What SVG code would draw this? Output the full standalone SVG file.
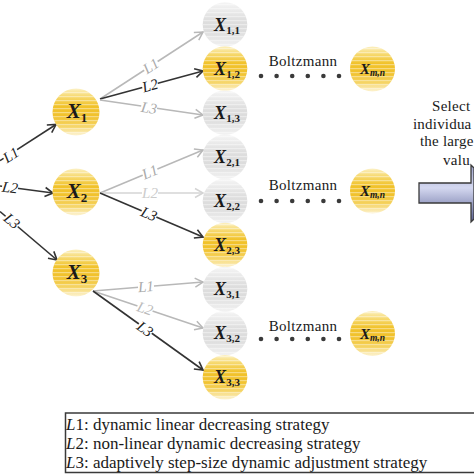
<svg xmlns="http://www.w3.org/2000/svg" width="474" height="474" viewBox="0 0 474 474">
<style>
.t{font-family:"Liberation Serif","Times New Roman",serif;fill:#1a1a1a}
.xb{font-weight:bold;font-style:italic}
.sb{font-weight:bold;font-style:normal}
.lab{font-family:"Liberation Serif","Times New Roman",serif;font-style:italic;font-size:15px;text-anchor:middle}
.bg{fill:#fff}
.dk{stroke:#333;stroke-width:1.6;fill:none}
.lg{stroke:#b8b8b8;stroke-width:1.5;fill:none}
.vl{stroke:#d4d4d4;stroke-width:1.5;fill:none}
.stripe{fill:url(#stripes)}
.dot{fill:#3a3a3a}
</style>
<defs>
<linearGradient id="gy" x1="0" y1="0" x2="0" y2="1">
<stop offset="0" stop-color="#fcf0c0"/>
<stop offset="0.18" stop-color="#f6d86c"/>
<stop offset="0.38" stop-color="#f1c22a"/>
<stop offset="0.6" stop-color="#f1c22e"/>
<stop offset="0.8" stop-color="#f5d464"/>
<stop offset="1" stop-color="#fdf3d2"/>
</linearGradient>
<linearGradient id="gg" x1="0" y1="0" x2="0" y2="1">
<stop offset="0" stop-color="#f5f5f5"/>
<stop offset="0.4" stop-color="#dedede"/>
<stop offset="0.65" stop-color="#dcdcdc"/>
<stop offset="1" stop-color="#f2f2f2"/>
</linearGradient>
<linearGradient id="ga" x1="0" y1="0" x2="0" y2="1">
<stop offset="0" stop-color="#9ea3cc"/>
<stop offset="0.4" stop-color="#d4d8f0"/>
<stop offset="1" stop-color="#5a6094"/>
</linearGradient>
<pattern id="stripes" patternUnits="userSpaceOnUse" width="6" height="4">
<rect x="0" y="0" width="6" height="1.2" fill="#ffffff" fill-opacity="0.4"/>
</pattern>
<marker id="mdk" markerUnits="userSpaceOnUse" markerWidth="12" markerHeight="12" refX="10" refY="6" orient="auto">
<path d="M2,1.5 L10,6 L2,10.5" fill="none" stroke="#333" stroke-width="1.6"/>
</marker>
<marker id="mlg" markerUnits="userSpaceOnUse" markerWidth="12" markerHeight="12" refX="10" refY="6" orient="auto">
<path d="M2,1.5 L10,6 L2,10.5" fill="none" stroke="#b8b8b8" stroke-width="1.5"/>
</marker>
<marker id="mvl" markerUnits="userSpaceOnUse" markerWidth="12" markerHeight="12" refX="10" refY="6" orient="auto">
<path d="M2,1.5 L10,6 L2,10.5" fill="none" stroke="#d4d4d4" stroke-width="1.5"/>
</marker>
</defs>
<rect width="474" height="474" fill="#ffffff"/>

<g id="connectors">
<line class="dk" x1="0" y1="160.7" x2="56" y2="124.5" marker-end="url(#mdk)"/>
<line class="dk" x1="0" y1="186" x2="53" y2="193" marker-end="url(#mdk)"/>
<line class="dk" x1="0" y1="211.5" x2="57" y2="260" marker-end="url(#mdk)"/>
<line class="lg" x1="100" y1="99" x2="203" y2="32" marker-end="url(#mlg)"/>
<line class="dk" x1="100" y1="99" x2="203" y2="71" marker-end="url(#mdk)"/>
<line class="lg" x1="100" y1="100" x2="203" y2="115" marker-end="url(#mlg)"/>
<line class="lg" x1="100" y1="193" x2="203" y2="150" marker-end="url(#mlg)"/>
<line class="vl" x1="100" y1="193" x2="203" y2="193" marker-end="url(#mvl)"/>
<line class="dk" x1="100" y1="193" x2="203" y2="237" marker-end="url(#mdk)"/>
<line class="lg" x1="93" y1="291" x2="203" y2="282" marker-end="url(#mlg)"/>
<line class="lg" x1="93" y1="291" x2="203" y2="328" marker-end="url(#mlg)"/>
<line class="dk" x1="93" y1="291" x2="203" y2="370" marker-end="url(#mdk)"/>
</g>

<g id="connector-labels">
<g transform="translate(11,155) rotate(-32.8)"><rect class="bg" x="-8" y="-6" width="16" height="12"/><text class="lab" fill="#222" y="5">L1</text></g>
<g transform="translate(10,187.5) rotate(7.5)"><rect class="bg" x="-8" y="-6" width="16" height="12"/><text class="lab" fill="#222" y="5">L2</text></g>
<g transform="translate(12,221) rotate(40.4)"><rect class="bg" x="-8" y="-6" width="16" height="12"/><text class="lab" fill="#222" y="5">L3</text></g>
<g transform="translate(151,66) rotate(-33)"><rect class="bg" x="-8" y="-6" width="16" height="12"/><text class="lab" fill="#aaaaaa" y="5">L1</text></g>
<g transform="translate(150,85.5) rotate(-15.2)"><rect class="bg" x="-8" y="-6" width="16" height="12"/><text class="lab" fill="#222" y="5">L2</text></g>
<g transform="translate(149,108) rotate(8.3)"><rect class="bg" x="-8" y="-6" width="16" height="12"/><text class="lab" fill="#aaaaaa" y="5">L3</text></g>
<g transform="translate(150,172) rotate(-22.7)"><rect class="bg" x="-8" y="-6" width="16" height="12"/><text class="lab" fill="#aaaaaa" y="5">L1</text></g>
<g transform="translate(150,193)"><rect class="bg" x="-8" y="-6" width="16" height="12"/><text class="lab" fill="#cccccc" y="5">L2</text></g>
<g transform="translate(149,214) rotate(23.1)"><rect class="bg" x="-8" y="-6" width="16" height="12"/><text class="lab" fill="#222" y="5">L3</text></g>
<g transform="translate(146,286.5) rotate(-4.7)"><rect class="bg" x="-8" y="-6" width="16" height="12"/><text class="lab" fill="#aaaaaa" y="5">L1</text></g>
<g transform="translate(145,308.5) rotate(18.6)"><rect class="bg" x="-8" y="-6" width="16" height="12"/><text class="lab" fill="#bbbbbb" y="5">L2</text></g>
<g transform="translate(145,329) rotate(35.7)"><rect class="bg" x="-8" y="-6" width="16" height="12"/><text class="lab" fill="#222" y="5">L3</text></g>
</g>

<g id="node-X1">
<circle cx="76" cy="112" r="23.5" fill="url(#gy)"/><circle class="stripe" cx="76" cy="112" r="23.5"/>
<text class="t" x="77" y="118" text-anchor="middle"><tspan class="xb" font-size="21">X</tspan><tspan class="sb" font-size="13" dy="4">1</tspan></text>
</g>
<g id="node-X2">
<circle cx="76" cy="192" r="23.5" fill="url(#gy)"/><circle class="stripe" cx="76" cy="192" r="23.5"/>
<text class="t" x="77" y="198" text-anchor="middle"><tspan class="xb" font-size="21">X</tspan><tspan class="sb" font-size="13" dy="4">2</tspan></text>
</g>
<g id="node-X3">
<circle cx="76" cy="273" r="23.5" fill="url(#gy)"/><circle class="stripe" cx="76" cy="273" r="23.5"/>
<text class="t" x="77" y="279" text-anchor="middle"><tspan class="xb" font-size="21">X</tspan><tspan class="sb" font-size="13" dy="4">3</tspan></text>
</g>

<g id="node-X11">
<circle cx="225" cy="24.5" r="22.3" fill="url(#gg)"/><circle class="stripe" cx="225" cy="24.5" r="22.3"/>
<text class="t" x="227" y="30.5" text-anchor="middle"><tspan class="xb" font-size="18">X</tspan><tspan class="sb" font-size="11" dy="3">1,1</tspan></text>
</g>
<g id="node-X12">
<circle cx="225" cy="68.6" r="22.3" fill="url(#gy)"/><circle class="stripe" cx="225" cy="68.6" r="22.3"/>
<text class="t" x="227" y="74.6" text-anchor="middle"><tspan class="xb" font-size="18">X</tspan><tspan class="sb" font-size="11" dy="3">1,2</tspan></text>
</g>
<g id="node-X13">
<circle cx="225" cy="112.7" r="22.3" fill="url(#gg)"/><circle class="stripe" cx="225" cy="112.7" r="22.3"/>
<text class="t" x="227" y="118.7" text-anchor="middle"><tspan class="xb" font-size="18">X</tspan><tspan class="sb" font-size="11" dy="3">1,3</tspan></text>
</g>
<g id="node-X21">
<circle cx="225" cy="156.8" r="22.3" fill="url(#gg)"/><circle class="stripe" cx="225" cy="156.8" r="22.3"/>
<text class="t" x="227" y="162.8" text-anchor="middle"><tspan class="xb" font-size="18">X</tspan><tspan class="sb" font-size="11" dy="3">2,1</tspan></text>
</g>
<g id="node-X22">
<circle cx="225" cy="200.9" r="22.3" fill="url(#gg)"/><circle class="stripe" cx="225" cy="200.9" r="22.3"/>
<text class="t" x="227" y="206.9" text-anchor="middle"><tspan class="xb" font-size="18">X</tspan><tspan class="sb" font-size="11" dy="3">2,2</tspan></text>
</g>
<g id="node-X23">
<circle cx="225" cy="245" r="22.3" fill="url(#gy)"/><circle class="stripe" cx="225" cy="245" r="22.3"/>
<text class="t" x="227" y="251" text-anchor="middle"><tspan class="xb" font-size="18">X</tspan><tspan class="sb" font-size="11" dy="3">2,3</tspan></text>
</g>
<g id="node-X31">
<circle cx="225" cy="289.1" r="22.3" fill="url(#gg)"/><circle class="stripe" cx="225" cy="289.1" r="22.3"/>
<text class="t" x="227" y="295.1" text-anchor="middle"><tspan class="xb" font-size="18">X</tspan><tspan class="sb" font-size="11" dy="3">3,1</tspan></text>
</g>
<g id="node-X32">
<circle cx="225" cy="333.2" r="22.3" fill="url(#gg)"/><circle class="stripe" cx="225" cy="333.2" r="22.3"/>
<text class="t" x="227" y="339.2" text-anchor="middle"><tspan class="xb" font-size="18">X</tspan><tspan class="sb" font-size="11" dy="3">3,2</tspan></text>
</g>
<g id="node-X33">
<circle cx="225" cy="377.3" r="22.3" fill="url(#gy)"/><circle class="stripe" cx="225" cy="377.3" r="22.3"/>
<text class="t" x="227" y="383.3" text-anchor="middle"><tspan class="xb" font-size="18">X</tspan><tspan class="sb" font-size="11" dy="3">3,3</tspan></text>
</g>

<g id="boltzmann-1">
<text class="t" x="303" y="66" font-size="15" text-anchor="middle" letter-spacing="0.3">Boltzmann</text>
<circle class="dot" cx="261" cy="76" r="2.3"/><circle class="dot" cx="276.6" cy="76" r="2.3"/><circle class="dot" cx="292.2" cy="76" r="2.3"/><circle class="dot" cx="307.8" cy="76" r="2.3"/><circle class="dot" cx="323.4" cy="76" r="2.3"/><circle class="dot" cx="339" cy="76" r="2.3"/>
</g>
<g id="boltzmann-2">
<text class="t" x="303" y="190" font-size="15" text-anchor="middle" letter-spacing="0.3">Boltzmann</text>
<circle class="dot" cx="261" cy="201" r="2.3"/><circle class="dot" cx="276.6" cy="201" r="2.3"/><circle class="dot" cx="292.2" cy="201" r="2.3"/><circle class="dot" cx="307.8" cy="201" r="2.3"/><circle class="dot" cx="323.4" cy="201" r="2.3"/><circle class="dot" cx="339" cy="201" r="2.3"/>
</g>
<g id="boltzmann-3">
<text class="t" x="303" y="331" font-size="15" text-anchor="middle" letter-spacing="0.3">Boltzmann</text>
<circle class="dot" cx="261" cy="339" r="2.3"/><circle class="dot" cx="276.6" cy="339" r="2.3"/><circle class="dot" cx="292.2" cy="339" r="2.3"/><circle class="dot" cx="307.8" cy="339" r="2.3"/><circle class="dot" cx="323.4" cy="339" r="2.3"/><circle class="dot" cx="339" cy="339" r="2.3"/>
</g>

<g id="node-Xmn-1">
<circle cx="372.5" cy="69" r="22.5" fill="url(#gy)"/><circle class="stripe" cx="372.5" cy="69" r="22.5"/>
<text class="t" x="372.5" y="74" text-anchor="middle"><tspan class="xb" font-size="15">X</tspan><tspan class="xb" font-size="9.5" dy="2">m,n</tspan></text>
</g>
<g id="node-Xmn-2">
<circle cx="372.5" cy="191" r="22.5" fill="url(#gy)"/><circle class="stripe" cx="372.5" cy="191" r="22.5"/>
<text class="t" x="372.5" y="196" text-anchor="middle"><tspan class="xb" font-size="15">X</tspan><tspan class="xb" font-size="9.5" dy="2">m,n</tspan></text>
</g>
<g id="node-Xmn-3">
<circle cx="372.5" cy="333.5" r="22.5" fill="url(#gy)"/><circle class="stripe" cx="372.5" cy="333.5" r="22.5"/>
<text class="t" x="372.5" y="338.5" text-anchor="middle"><tspan class="xb" font-size="15">X</tspan><tspan class="xb" font-size="9.5" dy="2">m,n</tspan></text>
</g>

<g id="select-text" class="t" font-size="15">
<text x="432" y="111" letter-spacing="0.3">Select</text>
<text x="413" y="129" letter-spacing="0.2">individua</text>
<text x="420" y="146" letter-spacing="0.2">the  large</text>
<text x="443" y="165" letter-spacing="0.3">valu</text>
</g>

<g id="big-arrow">
<path d="M419,183 H471 V165 L474,168 V219 L471,222 V203 H419 Z" fill="url(#ga)" stroke="#3a3a3a" stroke-width="1.3" stroke-linejoin="miter"/>
</g>

<g id="legend">
<path d="M474,413 H65.5 V472.5 H474" fill="#ffffff" stroke="#3a3a3a" stroke-width="1.5"/>
<text class="t" x="66" y="430" font-size="17"><tspan font-style="italic">L</tspan>1: dynamic linear decreasing strategy</text>
<text class="t" x="66" y="449" font-size="17"><tspan font-style="italic">L</tspan>2: non-linear dynamic decreasing strategy</text>
<text class="t" x="66" y="468" font-size="17"><tspan font-style="italic">L</tspan>3: adaptively step-size dynamic adjustment strategy</text>
</g>
</svg>
